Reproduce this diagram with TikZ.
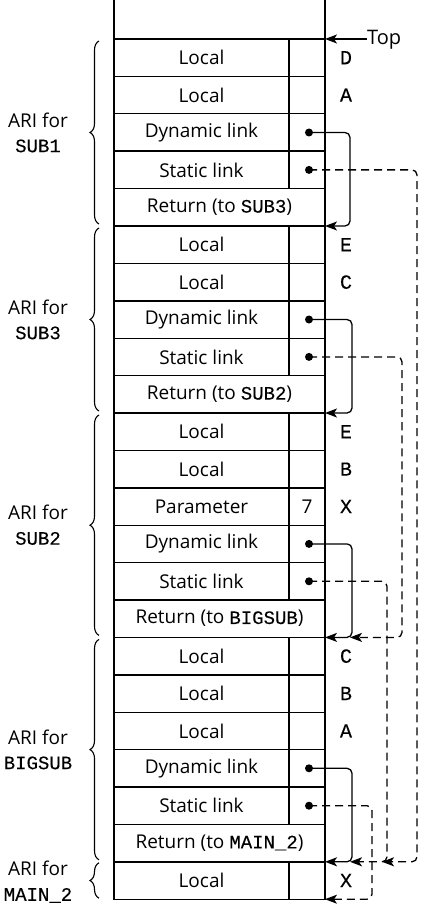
\documentclass[tikz,border=0pt]{standalone}
\usepackage{fontspec}
\setmainfont{Open Sans}
\setmonofont{Liberation Mono}[FakeBold=0.15]
\usetikzlibrary{arrows.meta,decorations.pathreplacing}
\begin{document}
\begin{tikzpicture}[x=1pt,y=-1pt,
  every node/.style={text=black},
  sansfont/.style={font=\fontsize{19}{25}\selectfont},
  maincell/.style={draw=black, line width=1.4pt, anchor=north west, minimum width=175pt, minimum height=37.4pt, inner sep=0pt, outer sep=0pt, sansfont},
  valcell/.style={maincell, minimum width=36pt},
  retcell/.style={maincell, minimum width=211pt},
  varlbl/.style={font=\fontsize{20}{20}\selectfont\ttfamily, inner sep=0pt},
  dotn/.style={circle, fill=black, minimum size=8pt, inner sep=0pt},
  link/.style={draw=black, line width=1.3pt, rounded corners=5pt, -{Stealth[length=12pt,width=9pt,inset=3pt]}},
  dynlink/.style={link},
  statlink/.style={link, dash pattern=on 8pt off 5pt},
  brc/.style={draw=black, decorate, decoration={brace, amplitude=9pt}, line width=1.1pt},
  arilbl/.style={align=center, sansfont, inner sep=0pt},
  boxline/.style={draw=black, line width=1.4pt}
]
\fill[white] (0,0) rectangle (424,912);
\useasboundingbox (0,0) rectangle (424,912);

% ---- stack rows ----
\node[maincell] (m1) at (114,39.0) {Local};          \node[valcell] (v1) at (289,39.0) {};
\node[maincell] (m2) at (114,76.4) {Local};          \node[valcell] (v2) at (289,76.4) {};
\node[maincell] (m3) at (114,113.8) {Dynamic link};  \node[valcell] (v3) at (289,113.8) {};
\node[maincell] (m4) at (114,151.2) {Static link};   \node[valcell] (v4) at (289,151.2) {};
\node[retcell]  (m5) at (114,188.6) {Return (to \texttt{SUB3})};
\node[maincell] (m6) at (114,226.0) {Local};         \node[valcell] (v6) at (289,226.0) {};
\node[maincell] (m7) at (114,263.4) {Local};         \node[valcell] (v7) at (289,263.4) {};
\node[maincell] (m8) at (114,300.8) {Dynamic link};  \node[valcell] (v8) at (289,300.8) {};
\node[maincell] (m9) at (114,338.2) {Static link};   \node[valcell] (v9) at (289,338.2) {};
\node[retcell]  (m10) at (114,375.6) {Return (to \texttt{SUB2})};
\node[maincell] (m11) at (114,413.0) {Local};        \node[valcell] (v11) at (289,413.0) {};
\node[maincell] (m12) at (114,450.4) {Local};        \node[valcell] (v12) at (289,450.4) {};
\node[maincell] (m13) at (114,487.8) {Parameter};    \node[valcell] (v13) at (289,487.8) {7};
\node[maincell] (m14) at (114,525.2) {Dynamic link}; \node[valcell] (v14) at (289,525.2) {};
\node[maincell] (m15) at (114,562.6) {Static link};  \node[valcell] (v15) at (289,562.6) {};
\node[retcell]  (m16) at (114,600.0) {Return (to \texttt{BIGSUB})};
\node[maincell] (m17) at (114,637.4) {Local};        \node[valcell] (v17) at (289,637.4) {};
\node[maincell] (m18) at (114,674.8) {Local};        \node[valcell] (v18) at (289,674.8) {};
\node[maincell] (m19) at (114,712.2) {Local};        \node[valcell] (v19) at (289,712.2) {};
\node[maincell] (m20) at (114,749.6) {Dynamic link}; \node[valcell] (v20) at (289,749.6) {};
\node[maincell] (m21) at (114,787.0) {Static link};  \node[valcell] (v21) at (289,787.0) {};
\node[retcell]  (m22) at (114,824.4) {Return (to \texttt{MAIN\_2})};
\node[maincell] (m23) at (114,861.8) {Local};        \node[valcell] (v23) at (289,861.8) {};

% open top of the stack
\coordinate (tl) at (114,0);
\draw[boxline] (m1.north west) -- (m1.north west |- tl);
\draw[boxline] (v1.north east) -- (v1.north east |- tl);

% ---- variable names ----
\node[varlbl] (n1)  at (346,57.7)  {D};
\node[varlbl] (n2)  at (346,95.1)  {A};
\node[varlbl] (n6)  at (346,244.7) {E};
\node[varlbl] (n7)  at (346,282.1) {C};
\node[varlbl] (n11) at (346,431.7) {E};
\node[varlbl] (n12) at (346,469.1) {B};
\node[varlbl] (n13) at (346,506.5) {X};
\node[varlbl] (n17) at (346,656.1) {C};
\node[varlbl] (n18) at (346,693.5) {B};
\node[varlbl] (n19) at (346,730.9) {A};
\node[varlbl] (n23) at (346,880.5) {X};

% ---- Top pointer ----
\node[font=\fontsize{20}{24}\selectfont, inner sep=0pt, anchor=base west] (top) at (367,45) {Top};
\draw[link] (top.west |- v1.north east) -- (v1.north east);

% ---- dots ----
\foreach \r in {3,4,8,9,14,15,20,21} {
  \node[dotn] (dot\r) at ([xshift=2pt]v\r.center) {};
}

% ---- dynamic links ----
\draw[dynlink] (dot3.center)  -- ++(41,0) |- (v6.north east);
\draw[dynlink] (dot8.center)  -- ++(43,0) |- (v11.north east);
\draw[dynlink] (dot14.center) -- ++(43,0) |- (v17.north east);
\draw[dynlink] (dot20.center) -- ++(43,0) |- (v23.north east);

% ---- static links ----
\draw[statlink] (dot4.center)  -- ++(108,0) |- ([xshift=57pt]v23.north east);
\draw[statlink] (dot9.center)  -- ++(93,0)  |- ([xshift=25pt]v17.north east);
\draw[statlink] (dot15.center) -- ++(78,0)  |- ([xshift=25pt]v23.north east);
\draw[statlink] (dot21.center) -- ++(63,0)  |- (v23.south east);

% ---- braces ----
\draw[brc] ([xshift=-15pt,yshift=2pt]m5.south west)  -- ([xshift=-15pt,yshift=-2pt]m1.north west);
\draw[brc] ([xshift=-15pt,yshift=2pt]m10.south west) -- ([xshift=-15pt,yshift=-2pt]m6.north west);
\draw[brc] ([xshift=-15pt,yshift=2pt]m16.south west) -- ([xshift=-15pt,yshift=-2pt]m11.north west);
\draw[brc] ([xshift=-15pt,yshift=2pt]m22.south west) -- ([xshift=-15pt,yshift=-2pt]m17.north west);
\draw[brc] ([xshift=-15pt,yshift=1pt]m23.south west) -- ([xshift=-15pt,yshift=-1pt]m23.north west);

% ---- ARI labels ----
\node[arilbl] (a1) at (38,132.5) {ARI for\\\texttt{SUB1}};
\node[arilbl] (a2) at (38,319.5) {ARI for\\\texttt{SUB3}};
\node[arilbl] (a3) at (38,525)   {ARI for\\\texttt{SUB2}};
\node[arilbl] (a4) at (38,749.5) {ARI for\\\texttt{BIGSUB}};
\node[arilbl] (a5) at (38,882)   {ARI for\\\texttt{MAIN\_2}};
\end{tikzpicture}
\end{document}
